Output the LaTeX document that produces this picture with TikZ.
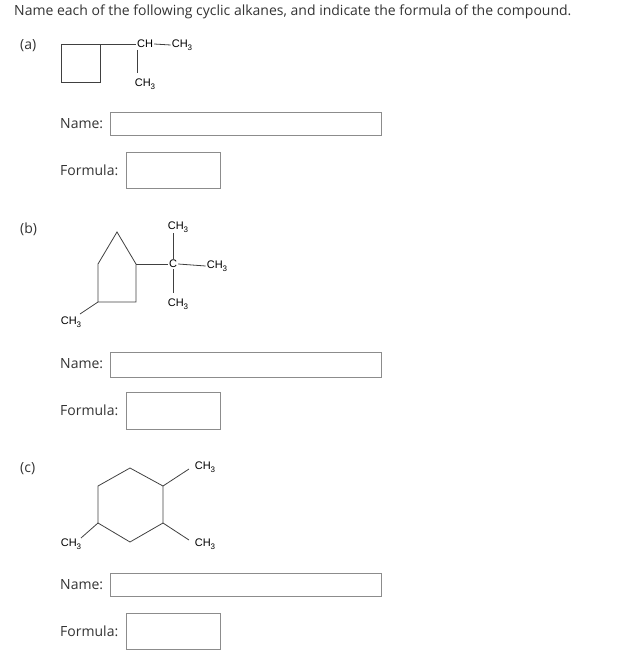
\documentclass[tikz,border=0pt]{standalone}
\usepackage{fontspec}
\setmainfont{Open Sans}
\newfontfamily\chemf{Liberation Sans}
\newcommand{\mythree}{\raisebox{-2.5pt}{\fontsize{8}{8}\selectfont 3}}
\begin{document}
\begin{tikzpicture}[x=1pt,y=-1pt,
 txt/.style={font=\fontsize{14}{16}\selectfont,text=black!80,inner sep=0pt},
 lbl/.style={txt,anchor=west},
 chem/.style={font=\chemf\fontsize{11}{12}\selectfont,inner sep=1pt},
 bond/.style={draw=black!75,line width=0.8pt},
 ansbox/.style={draw=black!45,line width=0.6pt,fill=white}]
\useasboundingbox (0,0) rectangle (622,666);
\node[lbl] (title) at (14,12) {Name each of the following cyclic alkanes, and indicate the formula of the compound.};
% (a)
\node[lbl] (la) at (20,46) {(a)};
\draw[bond] (61,44) -- (100,44) -- (100,82) -- (61,82) -- cycle;
\node[chem] (ach) at (145,44) {CH};
\node[chem] (ach3) at (182,45) {CH\mythree};
\node[chem] (ach3b) at (145,84) {CH\mythree};
\coordinate (ar) at (100,44);
\draw[bond] (ar) -- (ach.west);
\draw[bond] (ach.east) -- (ach3.west);
\draw[bond] (137,50) -- (137,73);
\node[lbl] (na) at (60,124) {Name:};
\draw[ansbox] (110,112) rectangle (381,135);
\node[lbl] (fa) at (60,170) {Formula:};
\draw[ansbox] (126,152) rectangle (220,188);
% (b)
\node[lbl] (lb) at (20,229) {(b)};
\coordinate (p1) at (117,232); \coordinate (p2) at (136,264); \coordinate (p3) at (136,302);
\coordinate (p4) at (98,302); \coordinate (p5) at (98,264);
\draw[bond] (p1) -- (p2) -- (p3) -- (p4) -- (p5) -- cycle;
\node[chem] (bc) at (173,264) {C};
\node[chem] (bt) at (178,227) {CH\mythree};
\node[chem] (bb) at (178,304) {CH\mythree};
\node[chem] (br) at (217,266) {CH\mythree};
\node[chem] (bl) at (71,322) {CH\mythree};
\draw[bond] (p2) -- (bc.west);
\draw[bond] (bc.east) -- (br.west);
\draw[bond] (173,233) -- (bc.north);
\draw[bond] (bc.south) -- (173,293);
\draw[bond] (p4) -- (80,314);
\node[lbl] (nb) at (60,364) {Name:};
\draw[ansbox] (110,352) rectangle (381,377);
\node[lbl] (fb) at (60,410) {Formula:};
\draw[ansbox] (126,392) rectangle (220,429);
% (c)
\node[lbl] (lc) at (20,469) {(c)};
\coordinate (h1) at (130,468); \coordinate (h2) at (163,486); \coordinate (h3) at (163,523);
\coordinate (h4) at (130,542); \coordinate (h5) at (98,523); \coordinate (h6) at (98,486);
\draw[bond] (h1) -- (h2) -- (h3) -- (h4) -- (h5) -- (h6) -- cycle;
\node[chem] (c1) at (205,467) {CH\mythree};
\node[chem] (c2) at (205,544) {CH\mythree};
\node[chem] (c3) at (71,544) {CH\mythree};
\draw[bond] (h2) -- (189,469);
\draw[bond] (h3) -- (189,540);
\draw[bond] (h5) -- (81,538);
\node[lbl] (nc) at (60,585) {Name:};
\draw[ansbox] (110,573) rectangle (381,596);
\node[lbl] (fc) at (60,631) {Formula:};
\draw[ansbox] (126,613) rectangle (220,649);
\end{tikzpicture}
\end{document}
